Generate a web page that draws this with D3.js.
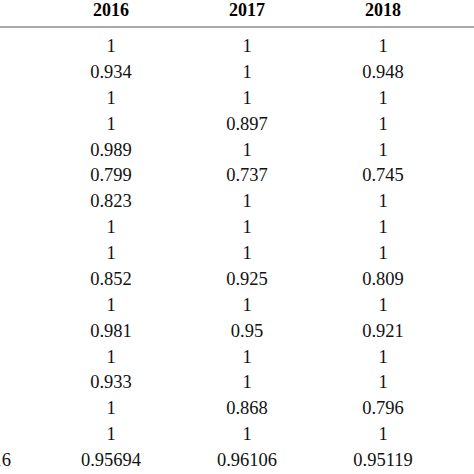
<!DOCTYPE html>
<html><head><meta charset="utf-8">
<script src="https://cdn.jsdelivr.net/npm/d3@7"></script>
<style>body{margin:0;background:#fff}</style>
</head><body>
<svg id="c" width="474" height="474"></svg>
<script>
const years = ['2016', '2017', '2018']
const v2016 = ['1','0.934','1','1','0.989','0.799','0.823','1','1','0.852','1','0.981','1','0.933','1','1','0.95694']
const v2017 = ['1','1','1','0.897','1','0.737','1','1','1','0.925','1','0.95','1','1','0.868','1','0.96106']
const v2018 = ['1','0.948','1','1','1','0.745','1','1','1','0.809','1','0.921','1','1','0.796','1','0.95119']
const rowLabels = d3.range(16).map(() => '').concat(['2016'])

const svg = d3.select('#c')
const font = '"Liberation Serif", serif'
const x = d3.scalePoint().domain(years).range([111, 383])
const y = d3.scaleLinear().domain([0, 16]).range([46, 460])
const cols = [v2016, v2017, v2018]

svg.selectAll('text.h').data(years).enter().append('text')
  .attr('x', d => x(d)).attr('y', 16)
  .attr('text-anchor', 'middle').attr('font-family', font)
  .attr('font-weight', 'bold').attr('font-size', 18).text(d => d)

svg.append('line').attr('x1', 0).attr('x2', 474).attr('y1', 27).attr('y2', 27)
  .attr('stroke', '#555').attr('stroke-width', 1.2)

cols.forEach((col, i) => {
  svg.selectAll('text.c' + i).data(col).enter().append('text')
    .attr('x', x(years[i])).attr('y', (d, j) => y(j) + 6)
    .attr('text-anchor', 'middle').attr('font-family', font)
    .attr('font-size', 18.5).attr('fill', '#111').text(d => d)
})

svg.selectAll('text.r').data(rowLabels).enter().append('text')
  .attr('x', 11).attr('y', (d, j) => y(j) + 6)
  .attr('text-anchor', 'end').attr('font-family', font)
  .attr('font-size', 18.5).attr('fill', '#111').text(d => d)
</script>
</body></html>
